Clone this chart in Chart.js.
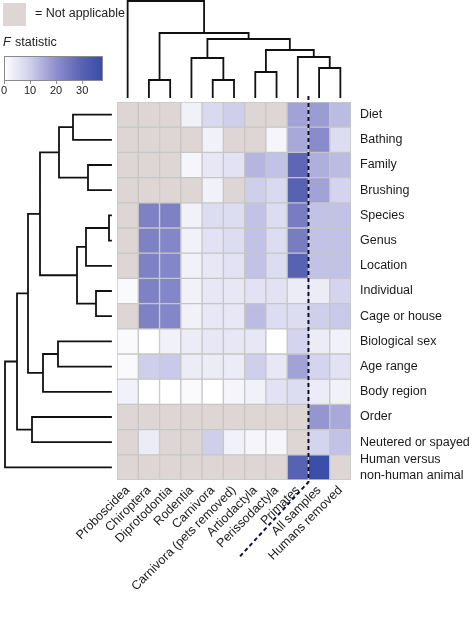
<!DOCTYPE html>
<html>
<head>
<meta charset="utf-8">
<script src="https://cdn.jsdelivr.net/npm/chart.js@4.4.1/dist/chart.umd.min.js"></script>
<style>
	html, body { margin: 0; padding: 0; background: #fff; }
</style>
</head>
<body>
<canvas id="heatmap" width="474" height="620"></canvas>
<script>
/* Datos del heatmap */
const columnas = ["Proboscidea", "Chiroptera", "Diprotodontia", "Rodentia", "Carnivora",
	"Carnivora (pets removed)", "Artiodactyla", "Perissodactyla", "Primates", "All samples", "Humans removed"];

const filas = ["Diet", "Bathing", "Family", "Brushing", "Species", "Genus", "Location", "Individual",
	"Cage or house", "Biological sex", "Age range", "Body region", "Order", "Neutered or spayed",
	["Human versus", "non-human animal"]];

// null = not applicable
const valoresF = [
	[null, null, null, 3, 8, 10, null, null, 17, 18, 13],
	[null, null, null, null, 3, null, null, 2, 16, 21, 7],
	[null, null, null, 2, 5, 6, 14, 12, 29, 15, 13],
	[null, null, null, null, 3, null, 10, 8, 30, 17, 9],
	[null, 23, 23, 3, 7, 7, 12, 7, 24, 12, 12],
	[null, 23, 22, 3, 6, 7, 12, 7, 24, 12, 12],
	[null, 23, 22, 3, 5, 6, 12, 7, 30, 12, 12],
	[1, 23, 22, 3, 5, 5, 6, 6, 4, 4, 9],
	[null, 23, 22, 3, 5, 5, 13, 7, 7, 10, 11],
	[1, 0, 3, 4, 5, 5, 5, 0, 9, 4, 3],
	[1, 10, 11, 4, 4, 4, 10, 5, 17, 9, 6],
	[3, 0, 0, 1, 0, 2, 3, 6, 7, 4, 3],
	[null, null, null, null, null, null, null, null, null, 19, 16],
	[null, 4, null, null, 10, 3, 2, 2, null, 9, 12],
	[null, null, null, null, null, null, null, null, 30, 37, null],
];

// uniones del dendrograma: [a, b, altura]; hojas 0..n-1, nodos nuevos n, n+1, ...
const arbolColumnas = [[1, 2, 17], [4, 5, 17], [3, 12, 39], [6, 7, 25], [9, 10, 29],
	[8, 15, 40], [14, 16, 47], [13, 17, 58], [11, 18, 64], [0, 19, 96]];
const arbolFilas = [[4, 5, 2], [15, 6, 25], [7, 8, 15], [16, 17, 34], [0, 1, 38], [2, 3, 23],
	[19, 20, 52], [21, 18, 71], [9, 10, 53], [23, 11, 68], [22, 24, 83], [12, 13, 79],
	[25, 26, 94], [27, 14, 106]];

const escalaTicks = [0, 10, 20, 30];
const escalaMax = 38;

const FUENTE = "'Liberation Sans', Arial, sans-serif";
const colorNA = "#ddd6d5";
const paradas = [[0, [255, 255, 255]], [10, [207, 207, 236]], [20, [142, 143, 205]], [30, [88, 98, 178]], [38, [55, 76, 166]]];

function colorF(v) {
	if (v === null) return colorNA;
	for (let i = 1; i < paradas.length; i++) {
		if (v <= paradas[i][0]) {
			const [v0, c0] = paradas[i - 1];
			const [v1, c1] = paradas[i];
			const t = (v - v0) / (v1 - v0);
			const c = c0.map((x, k) => Math.round(x + (c1[k] - x) * t));
			return `rgb(${c[0]},${c[1]},${c[2]})`;
		}
	}
	return "rgb(55,76,166)";
}

function dibujarArbol(c, uniones, posHojas, base, espacio, vertical) {
	const maxH = Math.max(...uniones.map((u) => u[2]));
	const nodos = posHojas.map((p) => ({ p: p, h: 0 }));
	c.beginPath();
	uniones.forEach(([a, b, h]) => {
		const na = nodos[a], nb = nodos[b];
		const hp = (h / maxH) * espacio;
		const ha = (na.h / maxH) * espacio, hb = (nb.h / maxH) * espacio;
		if (vertical) {
			c.moveTo(na.p, base - ha);
			c.lineTo(na.p, base - hp);
			c.lineTo(nb.p, base - hp);
			c.lineTo(nb.p, base - hb);
		} else {
			c.moveTo(base - ha, na.p);
			c.lineTo(base - hp, na.p);
			c.lineTo(base - hp, nb.p);
			c.lineTo(base - hb, nb.p);
		}
		nodos.push({ p: (na.p + nb.p) / 2, h: h });
	});
	c.stroke();
}

const extras = {
	id: "extras",
	afterDatasetsDraw(chart) {
		const c = chart.ctx;
		const x = chart.scales.x;
		const a = chart.chartArea;
		// linea discontinua entre Primates y All samples
		const xd = (x.getPixelForValue(8) + x.getPixelForValue(9)) / 2;
		c.save();
		c.strokeStyle = "#0d1233";
		c.lineWidth = 2;
		c.setLineDash([4, 3]);
		c.beginPath();
		c.moveTo(xd, a.top - 6);
		c.lineTo(xd, a.bottom + 2);
		c.lineTo(xd - 69, a.bottom + 77);
		c.stroke();
		c.restore();
	},
	afterDraw(chart) {
		const c = chart.ctx;
		const x = chart.scales.x;
		const y = chart.scales.y;
		const a = chart.chartArea;
		c.save();
		c.strokeStyle = "#111";
		c.lineWidth = 1.8;
		c.lineCap = "square";
		dibujarArbol(c, arbolColumnas, columnas.map((_, i) => x.getPixelForValue(i)), a.top - 5, a.top - 6, true);
		dibujarArbol(c, arbolFilas, filas.map((_, i) => y.getPixelForValue(i + 0.5)), a.left - 6, a.left - 11, false);
		c.restore();

		/* Leyenda */
		c.save();
		c.fillStyle = colorNA;
		c.fillRect(3, 3, 23, 23);
		c.fillStyle = "#222";
		c.font = `12.5px ${FUENTE}`;
		c.textBaseline = "middle";
		c.fillText("= Not applicable", 35, 14);
		c.font = `italic 12.5px ${FUENTE}`;
		c.fillText("F", 3, 43);
		const wF = c.measureText("F ").width;
		c.font = `12.5px ${FUENTE}`;
		c.fillText("statistic", 3 + wF + 1, 43);

		const x0 = 4, x1 = 103;
		const grad = c.createLinearGradient(x0, 0, x1, 0);
		paradas.forEach(([v, col]) => grad.addColorStop(v / escalaMax, `rgb(${col[0]},${col[1]},${col[2]})`));
		c.fillStyle = grad;
		c.fillRect(x0, 56, x1 - x0, 25);
		c.strokeStyle = "#8a8a8a";
		c.lineWidth = 1;
		c.strokeRect(x0 + 0.5, 56.5, x1 - x0 - 1, 24);
		c.font = `11px ${FUENTE}`;
		c.textAlign = "center";
		c.fillStyle = "#222";
		escalaTicks.forEach((t) => {
			const px = x0 + (t / escalaMax) * (x1 - x0);
			c.beginPath();
			c.moveTo(px + 0.5, 81);
			c.lineTo(px + 0.5, 84);
			c.stroke();
			c.fillText(String(t), Math.max(px, 4), 91);
		});
		c.restore();
	},
};

const ctx = document.getElementById("heatmap").getContext("2d");

new Chart(ctx, {
	type: "bar",
	data: {
		labels: columnas,
		datasets: valoresF.map((fila, r) => ({
			label: "fila " + r,
			data: fila.map(() => [r, r + 1]),
			backgroundColor: fila.map(colorF),
			borderColor: "#c6c6c6",
			borderWidth: 1,
			borderSkipped: false,
			barPercentage: 1,
			categoryPercentage: 1,
			grouped: false,
			yAxisID: "y",
		})),
	},
	options: {
		responsive: false,
		animation: false,
		layout: { padding: { top: 102, left: 117, right: 0, bottom: 0 } },
		plugins: {
			legend: { display: false },
			tooltip: { enabled: false },
		},
		scales: {
			x: {
				type: "category",
				offset: true,
				grid: { display: false, drawTicks: false },
				border: { display: false },
				ticks: {
					autoSkip: false,
					maxRotation: 45,
					minRotation: 45,
					padding: 3,
					color: "#1a1a1a",
					font: { family: FUENTE, size: 12.5 },
				},
				afterFit: (s) => { s.height = 140; },
			},
			y: { type: "linear", min: 0, max: 15, reverse: true, display: false },
			filasEje: {
				type: "category",
				labels: filas,
				position: "right",
				offset: true,
				grid: { display: false, drawTicks: false },
				border: { display: false },
				ticks: {
					autoSkip: false,
					padding: 9,
					color: "#1a1a1a",
					font: { family: FUENTE, size: 12.5, lineHeight: 1.3 },
				},
				afterFit: (s) => { s.width = 123; },
			},
		},
	},
	plugins: [extras],
});
</script>
</body>
</html>
